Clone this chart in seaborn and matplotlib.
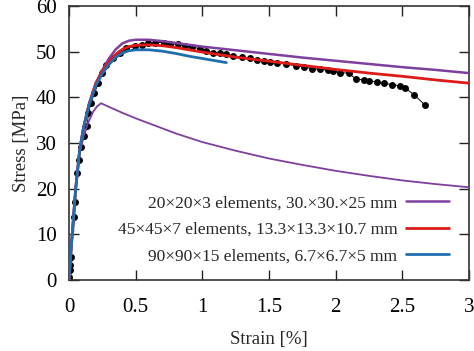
import numpy as np
import pandas as pd
import matplotlib
matplotlib.use('Agg')
import matplotlib.pyplot as plt
import seaborn as sns

# 20x20x3 mesh (upper curve) and its lower branch
coarse_x = [0, 0.02, 0.05, 0.08, 0.11, 0.15, 0.2, 0.25, 0.3, 0.35, 0.4, 0.45, 0.5, 0.6, 0.7, 0.8,
            1.0, 1.25, 1.5, 1.75, 2.0, 2.25, 2.5, 2.75, 3.0]
coarse_y = [0, 8.5, 20, 28.5, 33.5, 38.5, 43, 46, 48.5, 50.5, 51.8, 52.4, 52.6, 52.6, 52.3, 51.9,
            51.1, 50.3, 49.5, 48.7, 48.0, 47.3, 46.6, 46.0, 45.3]
coarse_low_x = [0, 0.02, 0.05, 0.08, 0.11, 0.14, 0.18, 0.21, 0.24, 0.3, 0.4, 0.5, 0.6, 0.7, 0.8,
                1.0, 1.25, 1.5, 1.75, 2.0, 2.25, 2.5, 2.75, 3.0]
coarse_low_y = [0, 8.5, 20, 27.5, 31.5, 34.2, 36.8, 38.0, 38.7, 37.9, 36.6, 35.4, 34.3, 33.2, 32.1,
                30.2, 28.3, 26.6, 25.2, 23.9, 22.8, 21.8, 21.0, 20.3]

# 45x45x7 mesh
medium_x = [0, 0.02, 0.05, 0.08, 0.11, 0.15, 0.2, 0.25, 0.3, 0.35, 0.4, 0.45, 0.5, 0.6, 0.7, 0.8,
            1.0, 1.25, 1.5, 1.75, 2.0, 2.25, 2.5, 2.75, 3.0]
medium_y = [0, 8.5, 20, 28.5, 33.5, 38.5, 43, 45.8, 47.8, 49.4, 50.5, 51.1, 51.4, 51.5, 51.3, 50.9,
            49.9, 48.8, 47.9, 47.0, 46.1, 45.3, 44.6, 43.8, 43.1]

# 90x90x15 mesh
fine_x = [0, 0.02, 0.05, 0.08, 0.11, 0.15, 0.2, 0.25, 0.3, 0.35, 0.4, 0.45, 0.5, 0.6, 0.7, 0.8,
          0.9, 1.0, 1.1, 1.18]
fine_y = [0, 8.5, 20, 28.5, 33.5, 38.3, 42.5, 45.2, 47.2, 48.7, 49.7, 50.2, 50.4, 50.4, 50.1, 49.6,
          49.0, 48.5, 48.0, 47.6]

# experiment
exp_x = [0, 0.002, 0.003, 0.005, 0.008, 0.013, 0.003, 0.038, 0.045, 0.038, 0.045, 0.062, 0.077,
         0.088, 0.113, 0.137, 0.145, 0.165, 0.19, 0.22, 0.245, 0.28, 0.33, 0.38, 0.43, 0.495,
         0.545, 0.595, 0.645, 0.71, 0.76, 0.82, 0.87, 0.92, 0.98, 1.03, 1.08, 1.13, 1.18, 1.23,
         1.295, 1.36, 1.41, 1.46, 1.51, 1.56, 1.63, 1.70, 1.76, 1.82, 1.88, 1.94, 1.98, 2.03,
         2.10, 2.15, 2.21, 2.25, 2.31, 2.36, 2.42, 2.48, 2.52, 2.59, 2.67]
exp_y = [0, 0.7, 1.5, 2.2, 3.3, 5.1, 7.6, 10.6, 13.9, 17.1, 20.4, 23.4, 26.3, 29.2, 31.5, 33.7,
         36.5, 38.7, 40.9, 43.1, 45.3, 47.1, 48.5, 49.6, 50.7, 51.2, 51.5, 51.8, 52.0, 52.0,
         51.7, 51.6, 51.3, 51.1, 50.6, 50.1, 49.8, 49.6, 49.4, 49.1, 48.8, 48.5, 48.2, 47.95,
         47.8, 47.6, 47.3, 46.9, 46.7, 46.3, 46.1, 46.0, 45.8, 45.4, 45.3, 44.0, 43.8, 43.6,
         43.4, 43.1, 42.8, 42.5, 42.1, 40.5, 38.3]

labels = ['20×20×3 elements, 30.×30.×25 mm',
          '45×45×7 elements, 13.3×13.3×10.7 mm',
          '90×90×15 elements, 6.7×6.7×5 mm']
colors = ['#7E3F9E', '#DD1C1A', '#1F6FB0']

sns.set_style('ticks')
plt.rcParams['font.family'] = ['Liberation Serif', 'DejaVu Serif']

fig, ax = plt.subplots(figsize=(4.74, 3.51), dpi=100)
fig.subplots_adjust(left=0.1456, right=0.9895, top=0.983, bottom=0.2023)

sns.lineplot(x=exp_x, y=exp_y, sort=False, color='black', lw=0.7, marker='o',
             markersize=5, markeredgewidth=0, ax=ax, zorder=2)
sns.lineplot(x=coarse_x, y=coarse_y, sort=False, color=colors[0], lw=1.8, ax=ax,
             label=labels[0], zorder=3)
sns.lineplot(x=coarse_low_x, y=coarse_low_y, sort=False, color=colors[0], lw=1.3, ax=ax,
             zorder=3)
sns.lineplot(x=medium_x, y=medium_y, sort=False, color=colors[1], lw=2.0, ax=ax,
             label=labels[1], zorder=3)
sns.lineplot(x=fine_x, y=fine_y, sort=False, color=colors[2], lw=2.0, ax=ax,
             label=labels[2], zorder=3)

ax.set_xlim(0, 3)
ax.set_ylim(0, 60)
ax.set_xticks([0, 0.5, 1, 1.5, 2, 2.5, 3])
ax.set_xticklabels(['0', '0.5', '1', '1.5', '2', '2.5', '3'])
ax.set_yticks(range(0, 61, 10))
ax.tick_params(direction='in', length=7, width=1, labelsize=15, top=True, right=True,
               colors='#222222', labelcolor='black', pad=9)
ax.tick_params(axis='x', pad=13)
for s in ax.spines.values():
    s.set_visible(True)
    s.set_linewidth(1.2)
    s.set_color('#333333')

ax.set_xlabel('Strain [%]', fontsize=13.5, labelpad=10)
ax.set_ylabel('Stress [MPa]', fontsize=13.5, labelpad=4)

ax.legend(loc='lower right', bbox_to_anchor=(0.99, 0.0), frameon=False, markerfirst=False,
          fontsize=12.5, handlelength=2.5, handletextpad=0.5, labelspacing=0.6)

fig.savefig('out.png', dpi=100)
